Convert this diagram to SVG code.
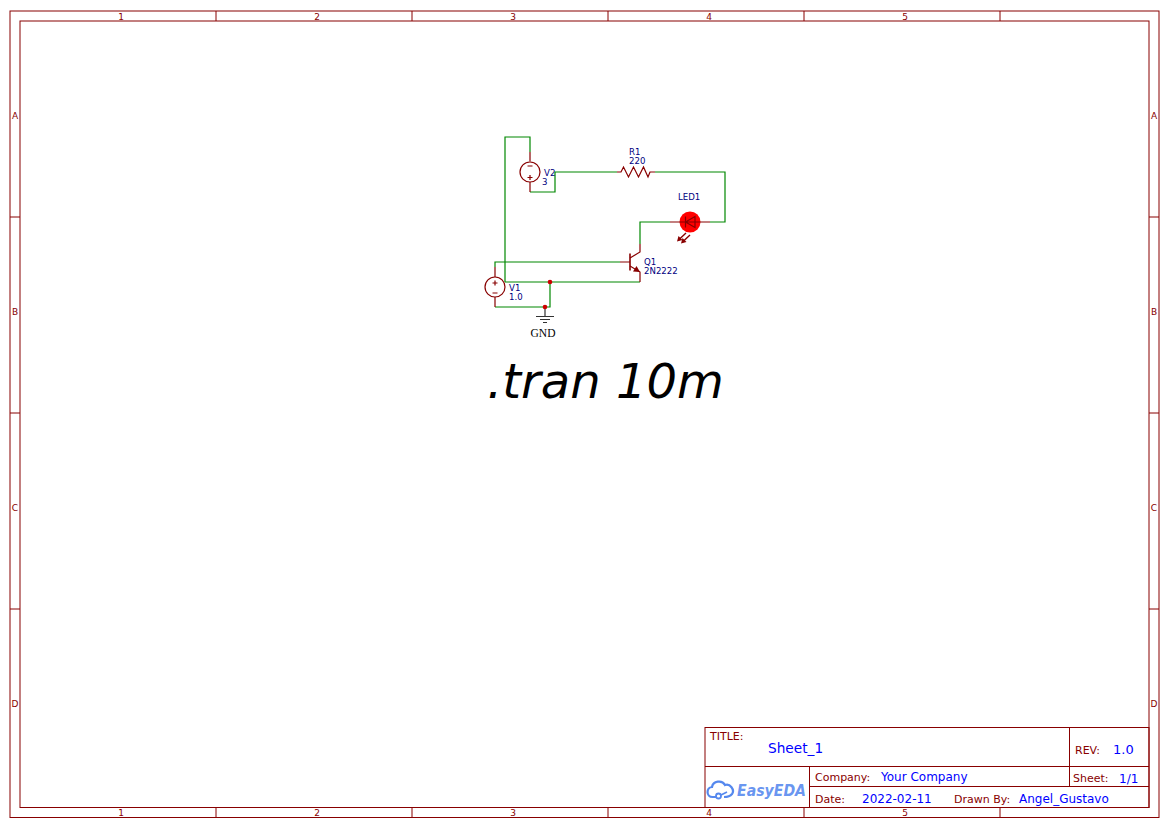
<svg xmlns="http://www.w3.org/2000/svg" width="1169" height="828" viewBox="0 0 1169 828">
<style>
text{font-family:"DejaVu Sans",sans-serif}
.f{fill:none;stroke:#880000;stroke-width:1}
.w{fill:none;stroke:#008800;stroke-width:1.200}
.p{fill:none;stroke:#880000;stroke-width:1.200}
.b{font-size:9px;fill:#880000;text-anchor:middle}
.l{font-size:8.600px;fill:#000080}
.t{font-size:11px;fill:#880000}
.v{font-size:12px;fill:#0000ff}
</style>
<rect width="1169" height="828" fill="#fff"/>
<g id="frame">
<rect class="f" x="10" y="11" width="1149" height="806.500"/>
<rect class="f" x="20" y="21" width="1129" height="786.500"/>
<path class="f" d="M216 11V21M412 11V21M608 11V21M804 11V21M1000 11V21M216 807.500V817.500M412 807.500V817.500M608 807.500V817.500M804 807.500V817.500M1000 807.500V817.500M10 217H20M10 413H20M10 609H20M1149 217H1159M1149 413H1159M1149 609H1159"/>
<g>
<text class="b" x="121" y="19.500">1</text><text class="b" x="317" y="19.500">2</text><text class="b" x="513" y="19.500">3</text><text class="b" x="709" y="19.500">4</text><text class="b" x="905" y="19.500">5</text>
<text class="b" x="121" y="816">1</text><text class="b" x="317" y="816">2</text><text class="b" x="513" y="816">3</text><text class="b" x="709" y="816">4</text><text class="b" x="905" y="816">5</text>
<text class="b" x="15" y="119">A</text><text class="b" x="15" y="315">B</text><text class="b" x="15" y="511">C</text><text class="b" x="15" y="707">D</text>
<text class="b" x="1154" y="119">A</text><text class="b" x="1154" y="315">B</text><text class="b" x="1154" y="511">C</text><text class="b" x="1154" y="707">D</text>
</g>
</g>
<g id="title-block">
<rect class="f" x="705" y="727.500" width="444" height="80"/>
<path class="f" d="M705 766.500H1149M809.500 786.500H1149M809.500 766.500V807.500M1069.500 727.500V786.500"/>
<text class="t" x="710" y="740">TITLE:</text>
<text x="768" y="753" font-size="13.700" fill="#0000ff">Sheet_1</text>
<text class="t" x="815" y="781">Company:</text>
<text class="v" x="881" y="781">Your Company</text>
<text class="t" x="815" y="803">Date:</text>
<text class="v" x="862" y="803">2022-02-11</text>
<text class="t" x="954" y="803">Drawn By:</text>
<text class="v" x="1019" y="803">Angel_Gustavo</text>
<text class="t" x="1075" y="754">REV:</text>
<text x="1113" y="754" font-size="13" fill="#0000ff">1.0</text>
<text class="t" x="1073" y="782">Sheet:</text>
<text class="v" x="1119" y="783">1/1</text>
<g id="logo">
<path d="M716 797H712.500C706 797 706 787.500 712 787C713 781 722 779.500 725 785C730 783 735 790 732 794C730 796.500 728 797 724 797" fill="none" stroke="#5588ee" stroke-width="2.200"/>
<circle cx="718.500" cy="796" r="2.500" fill="none" stroke="#5588ee" stroke-width="1.800"/>
<path d="M721 795L727 792" fill="none" stroke="#5588ee" stroke-width="1.800"/>
<text x="737" y="796" font-size="15.500" font-weight="bold" font-style="oblique" fill="#5588ee" fill-opacity="0.900" textLength="69" lengthAdjust="spacingAndGlyphs">EasyEDA</text>
</g>
</g>
<g id="connectors">
<path class="w" d="M530 152V137H505V282"/>
<path class="w" d="M530 192H555V172H617"/>
<path class="w" d="M655 172H725V222H710"/>
<path class="w" d="M670 222H640V244"/>
<path class="w" d="M620 262H495V267"/>
<path class="w" d="M505 282H640"/>
<path class="w" d="M495 307H550V282"/>
</g>
<g id="V2">
<path class="p" d="M530 152V161.500M530 182V192"/>
<circle class="p" cx="530" cy="172" r="10"/>
<path class="p" d="M527.500 166H532.500M527.500 177.500H532.500M530 175V180"/>
<text class="l" x="544" y="176">V2</text>
<text class="l" x="542" y="185">3</text>
</g>
<g id="R1">
<path class="p" d="M617 172H621L623.500 167L628.500 177L633.500 167L638.500 177L643.500 167L648 177L650 172H655"/>
<text class="l" x="629" y="155">R1</text>
<text class="l" x="629" y="164">220</text>
</g>
<g id="LED1">
<circle cx="690" cy="222" r="10.500" fill="#ff0000"/>
<path class="p" d="M670 222H710M685.500 216.500V227.500M695 216.500V227.500L685.500 222Z"/>
<path d="M686 233L678.500 240M690 235L682.500 242" stroke="#880000" stroke-width="1.400" fill="none"/>
<path d="M677 241.500L678.500 236L682.500 240ZM681 243.500L682.500 238L686.500 242Z" fill="#880000"/>
<text class="l" x="678" y="200">LED1</text>
</g>
<g id="Q1">
<path class="p" d="M640 244V252L630 258M620 262H630M630 266L640 272V282"/>
<path d="M630 253.500V270.500" stroke="#880000" stroke-width="1.600" fill="none"/>
<path d="M640 272L633 271.500L636.500 266Z" fill="#880000"/>
<text class="l" x="644" y="265">Q1</text>
<text class="l" x="644" y="274">2N2222</text>
</g>
<g id="V1">
<path class="p" d="M495 267V277M495 297V307"/>
<circle class="p" cx="495" cy="287" r="10"/>
<path class="p" d="M492.500 283H497.500M495 280.500V285.500M492.500 293H497.500"/>
<text class="l" x="509" y="291">V1</text>
<text class="l" x="509" y="300">1.0</text>
</g>
<g id="GND">
<path d="M545 307V316M536 316.500H554M540 319.500H550M543 322.500H547" fill="none" stroke="#333" stroke-width="1.200"/>
<text x="543" y="337" font-size="11.500" text-anchor="middle" style="font-family:'Liberation Serif',serif">GND</text>
</g>
<g id="junctions" fill="#cc0000">
<circle cx="550" cy="282" r="2.300"/>
<circle cx="545" cy="307" r="2.300"/>
</g>
<text id="directive" x="487" y="398" font-size="48" font-style="oblique" fill="#000">.tran 10m</text>
</svg>
